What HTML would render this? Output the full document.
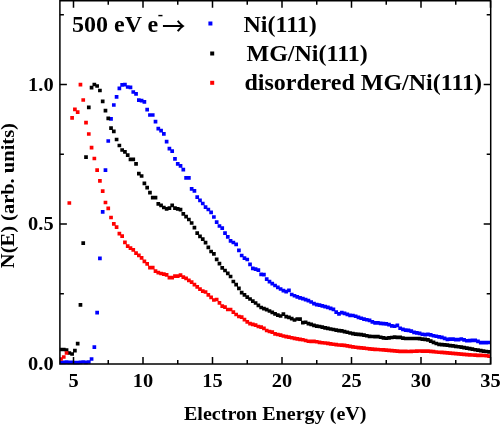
<!DOCTYPE html><html><head><meta charset="utf-8"><title>N(E) vs Electron Energy</title><style>html,body{margin:0;padding:0;background:#fff;overflow:hidden}svg{display:block}</style></head><body><svg width="500" height="425" viewBox="0 0 500 425"><defs><clipPath id="c"><rect x="59.90" y="0" width="431.55" height="364.75"/></clipPath></defs><rect width="500" height="425" fill="#fff"/><g clip-path="url(#c)"><path fill="#0000ff" d="M59.14 360.45h3.7v3.7h-3.7zM61.92 360.45h3.7v3.7h-3.7zM64.70 360.35h3.7v3.7h-3.7zM67.48 360.45h3.7v3.7h-3.7zM70.26 360.55h3.7v3.7h-3.7zM73.04 360.75h3.7v3.7h-3.7zM75.82 360.75h3.7v3.7h-3.7zM78.60 360.45h3.7v3.7h-3.7zM81.38 360.15h3.7v3.7h-3.7zM84.16 360.45h3.7v3.7h-3.7zM86.94 360.15h3.7v3.7h-3.7zM89.72 357.15h3.7v3.7h-3.7zM92.50 345.35h3.7v3.7h-3.7zM95.28 310.75h3.7v3.7h-3.7zM98.06 256.55h3.7v3.7h-3.7zM100.84 209.95h3.7v3.7h-3.7zM103.62 168.35h3.7v3.7h-3.7zM106.40 139.15h3.7v3.7h-3.7zM109.18 116.95h3.7v3.7h-3.7zM111.96 103.15h3.7v3.7h-3.7zM114.74 95.05h3.7v3.7h-3.7zM117.52 86.55h3.7v3.7h-3.7zM120.30 83.05h3.7v3.7h-3.7zM123.08 82.75h3.7v3.7h-3.7zM125.86 85.15h3.7v3.7h-3.7zM128.64 85.45h3.7v3.7h-3.7zM131.42 90.15h3.7v3.7h-3.7zM134.20 91.95h3.7v3.7h-3.7zM136.98 98.25h3.7v3.7h-3.7zM139.76 98.85h3.7v3.7h-3.7zM142.54 99.95h3.7v3.7h-3.7zM145.32 107.75h3.7v3.7h-3.7zM148.10 113.15h3.7v3.7h-3.7zM150.88 113.15h3.7v3.7h-3.7zM153.66 119.75h3.7v3.7h-3.7zM156.44 126.75h3.7v3.7h-3.7zM159.22 128.85h3.7v3.7h-3.7zM162.00 132.05h3.7v3.7h-3.7zM164.78 139.75h3.7v3.7h-3.7zM167.56 146.85h3.7v3.7h-3.7zM170.34 149.25h3.7v3.7h-3.7zM173.12 156.95h3.7v3.7h-3.7zM175.90 161.95h3.7v3.7h-3.7zM178.68 164.05h3.7v3.7h-3.7zM181.46 167.85h3.7v3.7h-3.7zM184.24 176.05h3.7v3.7h-3.7zM187.02 176.05h3.7v3.7h-3.7zM189.80 186.95h3.7v3.7h-3.7zM192.58 188.95h3.7v3.7h-3.7zM195.36 195.25h3.7v3.7h-3.7zM198.14 198.55h3.7v3.7h-3.7zM200.92 201.65h3.7v3.7h-3.7zM203.70 205.25h3.7v3.7h-3.7zM206.48 207.65h3.7v3.7h-3.7zM209.26 210.55h3.7v3.7h-3.7zM212.04 215.15h3.7v3.7h-3.7zM214.82 220.35h3.7v3.7h-3.7zM217.60 224.15h3.7v3.7h-3.7zM220.38 226.35h3.7v3.7h-3.7zM223.16 231.25h3.7v3.7h-3.7zM225.94 235.05h3.7v3.7h-3.7zM228.72 238.95h3.7v3.7h-3.7zM231.50 240.65h3.7v3.7h-3.7zM234.28 242.55h3.7v3.7h-3.7zM237.06 248.45h3.7v3.7h-3.7zM239.84 253.65h3.7v3.7h-3.7zM242.62 256.25h3.7v3.7h-3.7zM245.40 257.65h3.7v3.7h-3.7zM248.18 262.55h3.7v3.7h-3.7zM250.96 266.55h3.7v3.7h-3.7zM253.74 267.25h3.7v3.7h-3.7zM256.52 268.25h3.7v3.7h-3.7zM259.30 272.45h3.7v3.7h-3.7zM262.08 272.75h3.7v3.7h-3.7zM264.86 277.36h3.7v3.7h-3.7zM267.64 279.74h3.7v3.7h-3.7zM270.42 281.84h3.7v3.7h-3.7zM273.20 283.65h3.7v3.7h-3.7zM275.98 285.50h3.7v3.7h-3.7zM278.76 287.15h3.7v3.7h-3.7zM281.54 288.68h3.7v3.7h-3.7zM284.32 289.86h3.7v3.7h-3.7zM287.10 288.47h3.7v3.7h-3.7zM289.88 292.64h3.7v3.7h-3.7zM292.66 293.91h3.7v3.7h-3.7zM295.44 295.00h3.7v3.7h-3.7zM298.22 296.02h3.7v3.7h-3.7zM301.00 296.86h3.7v3.7h-3.7zM303.78 297.69h3.7v3.7h-3.7zM306.56 298.84h3.7v3.7h-3.7zM309.34 300.15h3.7v3.7h-3.7zM312.12 301.75h3.7v3.7h-3.7zM314.90 302.70h3.7v3.7h-3.7zM317.68 303.26h3.7v3.7h-3.7zM320.46 303.94h3.7v3.7h-3.7zM323.24 304.78h3.7v3.7h-3.7zM326.02 305.61h3.7v3.7h-3.7zM328.80 306.44h3.7v3.7h-3.7zM331.58 307.58h3.7v3.7h-3.7zM334.36 310.28h3.7v3.7h-3.7zM337.14 311.94h3.7v3.7h-3.7zM339.92 310.87h3.7v3.7h-3.7zM342.70 311.47h3.7v3.7h-3.7zM345.48 312.58h3.7v3.7h-3.7zM348.26 313.46h3.7v3.7h-3.7zM351.04 313.67h3.7v3.7h-3.7zM353.82 314.42h3.7v3.7h-3.7zM356.60 315.50h3.7v3.7h-3.7zM359.38 316.40h3.7v3.7h-3.7zM362.16 317.20h3.7v3.7h-3.7zM364.94 317.91h3.7v3.7h-3.7zM367.72 318.46h3.7v3.7h-3.7zM370.50 319.96h3.7v3.7h-3.7zM373.28 320.95h3.7v3.7h-3.7zM376.06 320.95h3.7v3.7h-3.7zM378.84 321.49h3.7v3.7h-3.7zM381.62 321.86h3.7v3.7h-3.7zM384.40 322.11h3.7v3.7h-3.7zM387.18 322.81h3.7v3.7h-3.7zM389.96 324.12h3.7v3.7h-3.7zM392.74 324.39h3.7v3.7h-3.7zM395.52 323.53h3.7v3.7h-3.7zM398.30 326.39h3.7v3.7h-3.7zM401.08 327.51h3.7v3.7h-3.7zM403.86 328.25h3.7v3.7h-3.7zM406.64 328.54h3.7v3.7h-3.7zM409.42 329.35h3.7v3.7h-3.7zM412.20 330.45h3.7v3.7h-3.7zM414.98 330.98h3.7v3.7h-3.7zM417.76 331.54h3.7v3.7h-3.7zM420.54 332.41h3.7v3.7h-3.7zM423.32 332.73h3.7v3.7h-3.7zM426.10 332.50h3.7v3.7h-3.7zM428.88 333.10h3.7v3.7h-3.7zM431.66 333.89h3.7v3.7h-3.7zM434.44 334.42h3.7v3.7h-3.7zM437.22 334.97h3.7v3.7h-3.7zM440.00 335.55h3.7v3.7h-3.7zM442.78 336.49h3.7v3.7h-3.7zM445.56 337.61h3.7v3.7h-3.7zM448.34 337.31h3.7v3.7h-3.7zM451.12 337.21h3.7v3.7h-3.7zM453.90 337.86h3.7v3.7h-3.7zM456.68 337.80h3.7v3.7h-3.7zM459.46 337.16h3.7v3.7h-3.7zM462.24 337.98h3.7v3.7h-3.7zM465.02 338.92h3.7v3.7h-3.7zM467.80 338.69h3.7v3.7h-3.7zM470.58 338.55h3.7v3.7h-3.7zM473.36 338.55h3.7v3.7h-3.7zM476.14 339.50h3.7v3.7h-3.7zM478.92 340.84h3.7v3.7h-3.7zM481.70 340.85h3.7v3.7h-3.7zM484.48 340.80h3.7v3.7h-3.7zM487.26 340.63h3.7v3.7h-3.7z"/><path fill="#000" d="M59.14 347.65h3.7v3.7h-3.7zM61.92 347.65h3.7v3.7h-3.7zM64.70 348.15h3.7v3.7h-3.7zM67.48 351.15h3.7v3.7h-3.7zM70.26 352.15h3.7v3.7h-3.7zM73.04 348.85h3.7v3.7h-3.7zM75.82 341.75h3.7v3.7h-3.7zM78.60 303.05h3.7v3.7h-3.7zM81.38 241.35h3.7v3.7h-3.7zM84.16 155.35h3.7v3.7h-3.7zM86.94 105.45h3.7v3.7h-3.7zM89.72 85.85h3.7v3.7h-3.7zM92.50 82.65h3.7v3.7h-3.7zM95.28 84.15h3.7v3.7h-3.7zM98.06 88.65h3.7v3.7h-3.7zM100.84 99.55h3.7v3.7h-3.7zM103.62 108.75h3.7v3.7h-3.7zM106.40 116.45h3.7v3.7h-3.7zM109.18 126.25h3.7v3.7h-3.7zM111.96 129.55h3.7v3.7h-3.7zM114.74 137.65h3.7v3.7h-3.7zM117.52 143.65h3.7v3.7h-3.7zM120.30 148.15h3.7v3.7h-3.7zM123.08 149.95h3.7v3.7h-3.7zM125.86 153.25h3.7v3.7h-3.7zM128.64 157.45h3.7v3.7h-3.7zM131.42 157.45h3.7v3.7h-3.7zM134.20 161.95h3.7v3.7h-3.7zM136.98 171.85h3.7v3.7h-3.7zM139.76 174.15h3.7v3.7h-3.7zM142.54 181.55h3.7v3.7h-3.7zM145.32 185.85h3.7v3.7h-3.7zM148.10 190.75h3.7v3.7h-3.7zM150.88 195.75h3.7v3.7h-3.7zM153.66 195.75h3.7v3.7h-3.7zM156.44 202.05h3.7v3.7h-3.7zM159.22 203.55h3.7v3.7h-3.7zM162.00 205.65h3.7v3.7h-3.7zM164.78 207.05h3.7v3.7h-3.7zM167.56 206.35h3.7v3.7h-3.7zM170.34 203.55h3.7v3.7h-3.7zM173.12 206.35h3.7v3.7h-3.7zM175.90 207.05h3.7v3.7h-3.7zM178.68 207.75h3.7v3.7h-3.7zM181.46 211.95h3.7v3.7h-3.7zM184.24 214.75h3.7v3.7h-3.7zM187.02 217.65h3.7v3.7h-3.7zM189.80 221.15h3.7v3.7h-3.7zM192.58 225.85h3.7v3.7h-3.7zM195.36 231.35h3.7v3.7h-3.7zM198.14 234.45h3.7v3.7h-3.7zM200.92 237.25h3.7v3.7h-3.7zM203.70 240.75h3.7v3.7h-3.7zM206.48 245.45h3.7v3.7h-3.7zM209.26 249.65h3.7v3.7h-3.7zM212.04 252.05h3.7v3.7h-3.7zM214.82 257.55h3.7v3.7h-3.7zM217.60 261.75h3.7v3.7h-3.7zM220.38 266.05h3.7v3.7h-3.7zM223.16 268.65h3.7v3.7h-3.7zM225.94 271.45h3.7v3.7h-3.7zM228.72 274.65h3.7v3.7h-3.7zM231.50 279.65h3.7v3.7h-3.7zM234.28 282.75h3.7v3.7h-3.7zM237.06 286.55h3.7v3.7h-3.7zM239.84 290.75h3.7v3.7h-3.7zM242.62 292.95h3.7v3.7h-3.7zM245.40 295.35h3.7v3.7h-3.7zM248.18 297.15h3.7v3.7h-3.7zM250.96 299.25h3.7v3.7h-3.7zM253.74 301.15h3.7v3.7h-3.7zM256.52 303.55h3.7v3.7h-3.7zM259.30 305.65h3.7v3.7h-3.7zM262.08 306.75h3.7v3.7h-3.7zM264.86 307.75h3.7v3.7h-3.7zM267.64 309.15h3.7v3.7h-3.7zM270.42 310.55h3.7v3.7h-3.7zM273.20 311.95h3.7v3.7h-3.7zM275.98 313.35h3.7v3.7h-3.7zM278.76 314.15h3.7v3.7h-3.7zM281.54 312.35h3.7v3.7h-3.7zM284.32 314.75h3.7v3.7h-3.7zM287.10 315.55h3.7v3.7h-3.7zM289.88 316.84h3.7v3.7h-3.7zM292.66 318.15h3.7v3.7h-3.7zM295.44 317.15h3.7v3.7h-3.7zM298.22 317.24h3.7v3.7h-3.7zM301.00 320.76h3.7v3.7h-3.7zM303.78 320.42h3.7v3.7h-3.7zM306.56 321.80h3.7v3.7h-3.7zM309.34 322.59h3.7v3.7h-3.7zM312.12 323.54h3.7v3.7h-3.7zM314.90 324.30h3.7v3.7h-3.7zM317.68 324.65h3.7v3.7h-3.7zM320.46 325.19h3.7v3.7h-3.7zM323.24 325.97h3.7v3.7h-3.7zM326.02 326.55h3.7v3.7h-3.7zM328.80 327.16h3.7v3.7h-3.7zM331.58 327.64h3.7v3.7h-3.7zM334.36 328.19h3.7v3.7h-3.7zM337.14 328.75h3.7v3.7h-3.7zM339.92 329.12h3.7v3.7h-3.7zM342.70 329.72h3.7v3.7h-3.7zM345.48 330.40h3.7v3.7h-3.7zM348.26 331.13h3.7v3.7h-3.7zM351.04 331.86h3.7v3.7h-3.7zM353.82 332.32h3.7v3.7h-3.7zM356.60 332.59h3.7v3.7h-3.7zM359.38 332.87h3.7v3.7h-3.7zM362.16 333.35h3.7v3.7h-3.7zM364.94 333.91h3.7v3.7h-3.7zM367.72 334.46h3.7v3.7h-3.7zM370.50 334.64h3.7v3.7h-3.7zM373.28 334.74h3.7v3.7h-3.7zM376.06 334.85h3.7v3.7h-3.7zM378.84 335.39h3.7v3.7h-3.7zM381.62 335.94h3.7v3.7h-3.7zM384.40 336.42h3.7v3.7h-3.7zM387.18 336.03h3.7v3.7h-3.7zM389.96 335.65h3.7v3.7h-3.7zM392.74 335.37h3.7v3.7h-3.7zM395.52 335.46h3.7v3.7h-3.7zM398.30 335.54h3.7v3.7h-3.7zM401.08 336.32h3.7v3.7h-3.7zM403.86 336.65h3.7v3.7h-3.7zM406.64 336.65h3.7v3.7h-3.7zM409.42 336.65h3.7v3.7h-3.7zM412.20 336.65h3.7v3.7h-3.7zM414.98 336.65h3.7v3.7h-3.7zM417.76 336.75h3.7v3.7h-3.7zM420.54 337.19h3.7v3.7h-3.7zM423.32 337.62h3.7v3.7h-3.7zM426.10 338.06h3.7v3.7h-3.7zM428.88 339.22h3.7v3.7h-3.7zM431.66 340.53h3.7v3.7h-3.7zM434.44 341.66h3.7v3.7h-3.7zM437.22 342.46h3.7v3.7h-3.7zM440.00 342.76h3.7v3.7h-3.7zM442.78 343.05h3.7v3.7h-3.7zM445.56 343.34h3.7v3.7h-3.7zM448.34 343.72h3.7v3.7h-3.7zM451.12 344.10h3.7v3.7h-3.7zM453.90 344.48h3.7v3.7h-3.7zM456.68 344.89h3.7v3.7h-3.7zM459.46 345.33h3.7v3.7h-3.7zM462.24 345.77h3.7v3.7h-3.7zM465.02 346.22h3.7v3.7h-3.7zM467.80 346.78h3.7v3.7h-3.7zM470.58 347.34h3.7v3.7h-3.7zM473.36 347.89h3.7v3.7h-3.7zM476.14 348.36h3.7v3.7h-3.7zM478.92 348.80h3.7v3.7h-3.7zM481.70 349.24h3.7v3.7h-3.7zM484.48 349.65h3.7v3.7h-3.7zM487.26 349.99h3.7v3.7h-3.7z"/><path fill="#ff0000" d="M59.14 357.15h3.7v3.7h-3.7zM61.92 355.15h3.7v3.7h-3.7zM64.70 351.15h3.7v3.7h-3.7zM67.48 201.15h3.7v3.7h-3.7zM70.26 115.95h3.7v3.7h-3.7zM73.04 107.45h3.7v3.7h-3.7zM75.82 110.25h3.7v3.7h-3.7zM78.60 82.75h3.7v3.7h-3.7zM81.38 98.15h3.7v3.7h-3.7zM84.16 120.75h3.7v3.7h-3.7zM86.94 132.15h3.7v3.7h-3.7zM89.72 145.75h3.7v3.7h-3.7zM92.50 156.65h3.7v3.7h-3.7zM95.28 168.25h3.7v3.7h-3.7zM98.06 178.95h3.7v3.7h-3.7zM100.84 189.25h3.7v3.7h-3.7zM103.62 200.65h3.7v3.7h-3.7zM106.40 206.45h3.7v3.7h-3.7zM109.18 215.65h3.7v3.7h-3.7zM111.96 222.05h3.7v3.7h-3.7zM114.74 225.25h3.7v3.7h-3.7zM117.52 231.85h3.7v3.7h-3.7zM120.30 234.35h3.7v3.7h-3.7zM123.08 240.45h3.7v3.7h-3.7zM125.86 244.25h3.7v3.7h-3.7zM128.64 246.35h3.7v3.7h-3.7zM131.42 248.05h3.7v3.7h-3.7zM134.20 251.35h3.7v3.7h-3.7zM136.98 253.45h3.7v3.7h-3.7zM139.76 255.95h3.7v3.7h-3.7zM142.54 259.55h3.7v3.7h-3.7zM145.32 261.95h3.7v3.7h-3.7zM148.10 265.85h3.7v3.7h-3.7zM150.88 265.85h3.7v3.7h-3.7zM153.66 269.25h3.7v3.7h-3.7zM156.44 270.85h3.7v3.7h-3.7zM159.22 271.65h3.7v3.7h-3.7zM162.00 272.35h3.7v3.7h-3.7zM164.78 273.05h3.7v3.7h-3.7zM167.56 275.85h3.7v3.7h-3.7zM170.34 275.75h3.7v3.7h-3.7zM173.12 274.35h3.7v3.7h-3.7zM175.90 274.35h3.7v3.7h-3.7zM178.68 273.35h3.7v3.7h-3.7zM181.46 275.35h3.7v3.7h-3.7zM184.24 276.45h3.7v3.7h-3.7zM187.02 278.55h3.7v3.7h-3.7zM189.80 280.25h3.7v3.7h-3.7zM192.58 282.75h3.7v3.7h-3.7zM195.36 284.95h3.7v3.7h-3.7zM198.14 287.35h3.7v3.7h-3.7zM200.92 289.35h3.7v3.7h-3.7zM203.70 290.15h3.7v3.7h-3.7zM206.48 292.95h3.7v3.7h-3.7zM209.26 295.45h3.7v3.7h-3.7zM212.04 298.15h3.7v3.7h-3.7zM214.82 297.65h3.7v3.7h-3.7zM217.60 301.05h3.7v3.7h-3.7zM220.38 304.35h3.7v3.7h-3.7zM223.16 305.25h3.7v3.7h-3.7zM225.94 307.65h3.7v3.7h-3.7zM228.72 307.65h3.7v3.7h-3.7zM231.50 310.35h3.7v3.7h-3.7zM234.28 312.65h3.7v3.7h-3.7zM237.06 314.65h3.7v3.7h-3.7zM239.84 315.35h3.7v3.7h-3.7zM242.62 317.85h3.7v3.7h-3.7zM245.40 320.05h3.7v3.7h-3.7zM248.18 321.85h3.7v3.7h-3.7zM250.96 322.55h3.7v3.7h-3.7zM253.74 323.25h3.7v3.7h-3.7zM256.52 324.65h3.7v3.7h-3.7zM259.30 325.35h3.7v3.7h-3.7zM262.08 326.55h3.7v3.7h-3.7zM264.86 328.65h3.7v3.7h-3.7zM267.64 329.65h3.7v3.7h-3.7zM270.42 330.35h3.7v3.7h-3.7zM273.20 331.95h3.7v3.7h-3.7zM275.98 332.65h3.7v3.7h-3.7zM278.76 333.35h3.7v3.7h-3.7zM281.54 334.15h3.7v3.7h-3.7zM284.32 334.85h3.7v3.7h-3.7zM287.10 335.37h3.7v3.7h-3.7zM289.88 335.90h3.7v3.7h-3.7zM292.66 336.45h3.7v3.7h-3.7zM295.44 337.00h3.7v3.7h-3.7zM298.22 337.46h3.7v3.7h-3.7zM301.00 337.92h3.7v3.7h-3.7zM303.78 338.65h3.7v3.7h-3.7zM306.56 339.39h3.7v3.7h-3.7zM309.34 339.55h3.7v3.7h-3.7zM312.12 339.55h3.7v3.7h-3.7zM314.90 339.90h3.7v3.7h-3.7zM317.68 340.46h3.7v3.7h-3.7zM320.46 340.88h3.7v3.7h-3.7zM323.24 341.16h3.7v3.7h-3.7zM326.02 341.49h3.7v3.7h-3.7zM328.80 341.96h3.7v3.7h-3.7zM331.58 342.41h3.7v3.7h-3.7zM334.36 342.78h3.7v3.7h-3.7zM337.14 343.15h3.7v3.7h-3.7zM339.92 343.33h3.7v3.7h-3.7zM342.70 343.52h3.7v3.7h-3.7zM345.48 343.99h3.7v3.7h-3.7zM348.26 344.52h3.7v3.7h-3.7zM351.04 345.04h3.7v3.7h-3.7zM353.82 345.42h3.7v3.7h-3.7zM356.60 345.69h3.7v3.7h-3.7zM359.38 345.97h3.7v3.7h-3.7zM362.16 346.30h3.7v3.7h-3.7zM364.94 346.65h3.7v3.7h-3.7zM367.72 347.00h3.7v3.7h-3.7zM370.50 347.23h3.7v3.7h-3.7zM373.28 347.43h3.7v3.7h-3.7zM376.06 347.64h3.7v3.7h-3.7zM378.84 347.88h3.7v3.7h-3.7zM381.62 348.12h3.7v3.7h-3.7zM384.40 348.36h3.7v3.7h-3.7zM387.18 348.60h3.7v3.7h-3.7zM389.96 348.84h3.7v3.7h-3.7zM392.74 349.08h3.7v3.7h-3.7zM395.52 349.32h3.7v3.7h-3.7zM398.30 349.55h3.7v3.7h-3.7zM401.08 349.58h3.7v3.7h-3.7zM403.86 349.61h3.7v3.7h-3.7zM406.64 349.64h3.7v3.7h-3.7zM409.42 349.56h3.7v3.7h-3.7zM412.20 349.41h3.7v3.7h-3.7zM414.98 349.26h3.7v3.7h-3.7zM417.76 349.16h3.7v3.7h-3.7zM420.54 349.19h3.7v3.7h-3.7zM423.32 349.21h3.7v3.7h-3.7zM426.10 349.24h3.7v3.7h-3.7zM428.88 349.51h3.7v3.7h-3.7zM431.66 349.83h3.7v3.7h-3.7zM434.44 350.15h3.7v3.7h-3.7zM437.22 350.42h3.7v3.7h-3.7zM440.00 350.59h3.7v3.7h-3.7zM442.78 350.77h3.7v3.7h-3.7zM445.56 350.94h3.7v3.7h-3.7zM448.34 351.20h3.7v3.7h-3.7zM451.12 351.47h3.7v3.7h-3.7zM453.90 351.73h3.7v3.7h-3.7zM456.68 352.01h3.7v3.7h-3.7zM459.46 352.30h3.7v3.7h-3.7zM462.24 352.60h3.7v3.7h-3.7zM465.02 352.87h3.7v3.7h-3.7zM467.80 353.02h3.7v3.7h-3.7zM470.58 353.16h3.7v3.7h-3.7zM473.36 353.31h3.7v3.7h-3.7zM476.14 353.43h3.7v3.7h-3.7zM478.92 353.55h3.7v3.7h-3.7zM481.70 353.67h3.7v3.7h-3.7zM484.48 353.88h3.7v3.7h-3.7zM487.26 354.31h3.7v3.7h-3.7z"/></g><path fill="none" stroke="#000" stroke-width="1.5" d="M73.50 364.00V357.00M73.50 0.75V7.75M143.00 364.00V357.00M143.00 0.75V7.75M212.50 364.00V357.00M212.50 0.75V7.75M282.00 364.00V357.00M282.00 0.75V7.75M351.50 364.00V357.00M351.50 0.75V7.75M421.00 364.00V357.00M421.00 0.75V7.75M490.50 364.00V357.00M490.50 0.75V7.75M108.25 364.00V360.00M108.25 0.75V4.75M177.75 364.00V360.00M177.75 0.75V4.75M247.25 364.00V360.00M247.25 0.75V4.75M316.75 364.00V360.00M316.75 0.75V4.75M386.25 364.00V360.00M386.25 0.75V4.75M455.75 364.00V360.00M455.75 0.75V4.75M59.90 224.10H66.90M490.70 224.10H483.70M59.90 84.60H66.90M490.70 84.60H483.70M59.90 293.85H63.90M490.70 293.85H486.70M59.90 154.35H63.90M490.70 154.35H486.70M59.90 14.85H63.90M490.70 14.85H486.70"/><rect x="59.90" y="0.75" width="430.80" height="363.25" fill="none" stroke="#000" stroke-width="1.5"/><g font-family="Liberation Serif, serif" font-weight="bold" font-size="20.4"><text transform="translate(73.50 387.0) scale(1 0.91)" text-anchor="middle">5</text><text transform="translate(143.00 387.0) scale(1 0.91)" text-anchor="middle">10</text><text transform="translate(212.50 387.0) scale(1 0.91)" text-anchor="middle">15</text><text transform="translate(282.00 387.0) scale(1 0.91)" text-anchor="middle">20</text><text transform="translate(351.50 387.0) scale(1 0.91)" text-anchor="middle">25</text><text transform="translate(421.00 387.0) scale(1 0.91)" text-anchor="middle">30</text><text transform="translate(490.50 387.0) scale(1 0.91)" text-anchor="middle">35</text><text transform="translate(53.6 369.60) scale(1 0.91)" text-anchor="end">0.0</text><text transform="translate(53.6 230.10) scale(1 0.91)" text-anchor="end">0.5</text><text transform="translate(53.6 90.60) scale(1 0.91)" text-anchor="end">1.0</text></g><text transform="translate(275.2 420.2) scale(1 0.91)" text-anchor="middle" font-family="Liberation Serif, serif" font-weight="bold" font-size="20.1">Electron Energy (eV)</text><text transform="translate(14.3 195.6) rotate(-90) scale(1 0.91)" text-anchor="middle" font-family="Liberation Serif, serif" font-weight="bold" font-size="20.5">N(E) (arb. units)</text><g font-family="Liberation Serif, serif" font-weight="bold" font-size="24"><text transform="translate(72 31.6) scale(1 1)">500 eV e<tspan font-size="16" dx="-0.4" dy="-12">-</tspan></text><text x="161.9" y="34.8" font-family="Noto Sans CJK JP, sans-serif" font-weight="500" font-size="23.5">&#8594;</text><text transform="translate(243.5 31.8) scale(1 1)">Ni(111)</text><text transform="translate(246.5 61.2) scale(1 1)">MG/Ni(111)</text><text transform="translate(244.5 90) scale(1 1)">disordered MG/Ni(111)</text></g><rect x="208.4" y="21.5" width="4" height="4" fill="#0000ff"/><rect x="210.2" y="51.5" width="4" height="4" fill="#000"/><rect x="210.2" y="80.8" width="4" height="4" fill="#ff0000"/></svg></body></html>
